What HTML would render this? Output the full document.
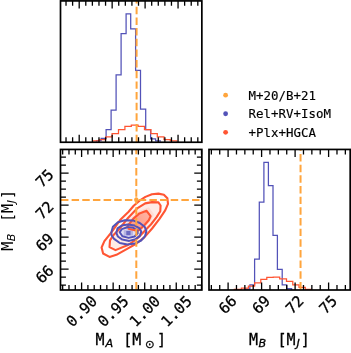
<!DOCTYPE html>
<html><head><meta charset="utf-8"><title>corner</title>
<style>html,body{margin:0;padding:0;background:#fff}svg{display:block}</style></head>
<body>
<svg width="351" height="353" viewBox="0 0 351 353">
<rect width="351" height="353" fill="#fff"/>
<g>
<path d="M96.40,141.80 L96.40,140.60 L101.10,140.60 L101.10,138.40 L106.10,138.40 L106.10,129.60 L111.10,129.60 L111.10,110.00 L116.10,110.00 L116.10,74.90 L121.10,74.90 L121.10,33.50 L126.10,33.50 L126.10,13.80 L130.70,13.80 L130.70,28.90 L135.60,28.90 L135.60,70.40 L140.50,70.40 L140.50,109.00 L145.70,109.00 L145.70,129.60 L150.60,129.60 L150.60,138.90 L155.60,138.90 L155.60,140.90 L160.30,140.90 L160.30,141.80" fill="none" stroke="#5252b8" stroke-width="1.25" stroke-linejoin="miter"/>
<path d="M92.80,141.80 L92.80,140.90 L99.30,140.90 L99.30,139.50 L105.70,139.50 L105.70,136.90 L112.10,136.90 L112.10,133.50 L118.50,133.50 L118.50,129.50 L124.90,129.50 L124.90,126.40 L131.30,126.40 L131.30,125.20 L138.10,125.20 L138.10,126.40 L144.50,126.40 L144.50,129.50 L150.90,129.50 L150.90,133.50 L157.30,133.50 L157.30,136.90 L164.00,136.90 L164.00,139.50 L170.30,139.50 L170.30,140.90 L176.70,140.90 L176.70,141.80" fill="none" stroke="#ff5533" stroke-width="1.25" stroke-linejoin="miter"/>
<line x1="136.6" y1="142.15" x2="136.6" y2="0.9" stroke="#ffa53d" stroke-width="2" stroke-dasharray="7.46 3.2"/>
<path d="M66.02,142.25 v-4.95 M66.02,0.9 v4.95 M72.61,142.25 v-4.95 M72.61,0.9 v4.95 M79.20,142.25 v-7.6 M79.20,0.9 v7.6 M85.79,142.25 v-4.95 M85.79,0.9 v4.95 M92.38,142.25 v-4.95 M92.38,0.9 v4.95 M98.97,142.25 v-4.95 M98.97,0.9 v4.95 M105.56,142.25 v-4.95 M105.56,0.9 v4.95 M112.15,142.25 v-7.6 M112.15,0.9 v7.6 M118.74,142.25 v-4.95 M118.74,0.9 v4.95 M125.33,142.25 v-4.95 M125.33,0.9 v4.95 M131.92,142.25 v-4.95 M131.92,0.9 v4.95 M138.51,142.25 v-4.95 M138.51,0.9 v4.95 M145.10,142.25 v-7.6 M145.10,0.9 v7.6 M151.69,142.25 v-4.95 M151.69,0.9 v4.95 M158.28,142.25 v-4.95 M158.28,0.9 v4.95 M164.87,142.25 v-4.95 M164.87,0.9 v4.95 M171.46,142.25 v-4.95 M171.46,0.9 v4.95 M178.05,142.25 v-7.6 M178.05,0.9 v7.6 M184.64,142.25 v-4.95 M184.64,0.9 v4.95 M191.23,142.25 v-4.95 M191.23,0.9 v4.95 M197.82,142.25 v-4.95 M197.82,0.9 v4.95" stroke="#000" stroke-width="1.3" fill="none"/>
<rect x="60.5" y="0.9" width="141.35" height="141.35" fill="none" stroke="#000" stroke-width="1.7"/>
</g>
<g>
<path d="M245.30,290.00 L245.30,289.00 L249.90,289.00 L249.90,284.90 L254.60,284.90 L254.60,259.00 L259.30,259.00 L259.30,202.10 L263.90,202.10 L263.90,162.35 L268.40,162.35 L268.40,185.70 L273.00,185.70 L273.00,235.30 L277.40,235.30 L277.40,269.40 L282.20,269.40 L282.20,284.80 L286.70,284.80 L286.70,288.70 L291.60,288.70 L291.60,290.00" fill="none" stroke="#5252b8" stroke-width="1.25" stroke-linejoin="miter"/>
<path d="M234.30,290.00 L234.30,289.40 L241.40,289.40 L241.40,288.20 L248.40,288.20 L248.40,286.00 L254.60,286.00 L254.60,282.80 L260.80,282.80 L260.80,279.30 L266.80,279.30 L266.80,277.40 L273.20,277.40 L273.20,277.20 L279.70,277.20 L279.70,278.90 L286.50,278.90 L286.50,281.40 L292.80,281.40 L292.80,284.80 L299.00,284.80 L299.00,287.40 L305.30,287.40 L305.30,289.40 L311.30,289.40 L311.30,290.00" fill="none" stroke="#ff5533" stroke-width="1.25" stroke-linejoin="miter"/>
<line x1="300.55" y1="289.40" x2="300.55" y2="149.45" stroke="#ffa53d" stroke-width="2" stroke-dasharray="7.46 3.2"/>
<path d="M211.35,290.0 v-4.95 M211.35,149.45 v4.95 M219.72,290.0 v-4.95 M219.72,149.45 v4.95 M228.10,290.0 v-7.6 M228.10,149.45 v7.6 M236.47,290.0 v-4.95 M236.47,149.45 v4.95 M244.85,290.0 v-4.95 M244.85,149.45 v4.95 M253.22,290.0 v-4.95 M253.22,149.45 v4.95 M261.60,290.0 v-7.6 M261.60,149.45 v7.6 M269.98,290.0 v-4.95 M269.98,149.45 v4.95 M278.35,290.0 v-4.95 M278.35,149.45 v4.95 M286.73,290.0 v-4.95 M286.73,149.45 v4.95 M295.10,290.0 v-7.6 M295.10,149.45 v7.6 M303.48,290.0 v-4.95 M303.48,149.45 v4.95 M311.85,290.0 v-4.95 M311.85,149.45 v4.95 M320.23,290.0 v-4.95 M320.23,149.45 v4.95 M328.60,290.0 v-7.6 M328.60,149.45 v7.6 M336.98,290.0 v-4.95 M336.98,149.45 v4.95 M345.35,290.0 v-4.95 M345.35,149.45 v4.95" stroke="#000" stroke-width="1.3" fill="none"/>
<rect x="209.0" y="149.45" width="141.20" height="140.55" fill="none" stroke="#000" stroke-width="1.7"/>
</g>
<g>
<defs><linearGradient id="gin" gradientUnits="userSpaceOnUse" x1="128" y1="230" x2="150" y2="210"><stop offset="0" stop-color="#ff5533" stop-opacity="0.55"/><stop offset="1" stop-color="#ff5533" stop-opacity="0.28"/></linearGradient></defs>
<path d="M101.6,247.5 L104.4,241.1 L111.4,232.3 L120.1,220.1 L128.6,211.7 L133.7,205.7 L139.6,200.6 L145.4,196.9 L151.9,194.2 L158.4,193.6 L163.9,194.8 L167.4,198.3 L168.0,203.8 L165.2,210.3 L159.5,218.8 L152.1,228.5 L144.1,237.6 L136.5,243.5 L128.0,248.4 L116.4,254.8 L109.5,256.9 L103.1,253.5Z" fill="#ff5533" fill-opacity="0.02" stroke="none" stroke-width="2.1" stroke-linejoin="round"/>
<path d="M109.5,247.1 L110.0,240.3 L113.5,235.0 L119.4,229.0 L124.7,222.1 L128.0,218.0 L137.5,208.1 L145.2,203.4 L151.9,202.1 L158.4,202.4 L160.6,205.5 L160.3,211.3 L156.6,217.1 L150.9,224.5 L145.3,230.2 L139.6,236.4 L134.0,241.0 L128.0,245.0 L115.5,250.1Z" fill="#ff5533" fill-opacity="0.1" stroke="none" stroke-width="2.1" stroke-linejoin="round"/>
<path d="M122.8,230.7 L125.0,226.0 L131.6,217.4 L139.4,210.7 L148.8,207.3 L154.0,214.3 L151.6,219.5 L146.4,225.5 L142.7,229.1 L137.1,233.6 L133.2,232.9Z" fill="#ff5533" fill-opacity="0.1" stroke="none" stroke-width="2.1" stroke-linejoin="round"/>
<path d="M126.6,228.8 L128.3,225.2 L133.4,218.6 L139.4,213.4 L146.6,210.8 L150.6,216.2 L148.8,220.2 L144.8,224.8 L141.9,227.6 L137.6,231.0 L134.6,230.5Z" fill="url(#gin)" fill-opacity="1" stroke="none" stroke-width="2.1" stroke-linejoin="round"/>
<path d="M101.6,247.5 L104.4,241.1 L111.4,232.3 L120.1,220.1 L128.6,211.7 L133.7,205.7 L139.6,200.6 L145.4,196.9 L151.9,194.2 L158.4,193.6 L163.9,194.8 L167.4,198.3 L168.0,203.8 L165.2,210.3 L159.5,218.8 L152.1,228.5 L144.1,237.6 L136.5,243.5 L128.0,248.4 L116.4,254.8 L109.5,256.9 L103.1,253.5Z" fill="none" fill-opacity="1" stroke="#ff5533" stroke-width="2.1" stroke-linejoin="round"/>
<path d="M109.5,247.1 L110.0,240.3 L113.5,235.0 L119.4,229.0 L124.7,222.1 L128.0,218.0 L137.5,208.1 L145.2,203.4 L151.9,202.1 L158.4,202.4 L160.6,205.5 L160.3,211.3 L156.6,217.1 L150.9,224.5 L145.3,230.2 L139.6,236.4 L134.0,241.0 L128.0,245.0 L115.5,250.1Z" fill="none" fill-opacity="1" stroke="#ff5533" stroke-width="2.1" stroke-linejoin="round"/>
<path d="M126.6,228.8 L128.3,225.2 L133.4,218.6 L139.4,213.4 L146.6,210.8 L150.6,216.2 L148.8,220.2 L144.8,224.8 L141.9,227.6 L137.6,231.0 L134.6,230.5Z" fill="none" fill-opacity="1" stroke="#ff5533" stroke-width="2.1" stroke-linejoin="round"/>
<path d="M119.7,232.2 L121.8,229.1 L127.2,227.3 L133.2,227.8 L137.3,230.5 L137.7,233.2 L134.6,236.5 L128.6,237.9 L122.4,236.3Z" fill="#dcdcf4" fill-opacity="0.85" stroke="none" stroke-width="2.1" stroke-linejoin="round"/>
<rect x="123.7" y="230.2" width="9.2" height="5.4" fill="#5252b8" fill-opacity="0.30"/>
<rect x="126.3" y="231.0" width="4.2" height="4.2" fill="#5252b8" fill-opacity="0.75"/>
<path d="M111.3,232.4 L112.9,226.7 L117.9,222.3 L124.8,220.2 L132.9,220.4 L139.8,223.0 L144.6,226.7 L146.4,231.1 L145.1,236.1 L141.1,240.5 L134.8,243.6 L127.3,244.6 L119.8,243.0 L114.1,238.9 L111.6,235.5Z" fill="none" fill-opacity="1" stroke="#5252b8" stroke-width="2.0" stroke-linejoin="round"/>
<path d="M116.3,232.8 L117.5,228.4 L121.7,225.6 L127.9,224.6 L134.8,225.6 L139.6,228.4 L141.3,231.7 L139.8,235.9 L135.4,239.3 L129.2,240.9 L122.3,239.6 L117.9,236.5Z" fill="none" fill-opacity="1" stroke="#5252b8" stroke-width="2.0" stroke-linejoin="round"/>
<path d="M119.7,232.2 L121.8,229.1 L127.2,227.3 L133.2,227.8 L137.3,230.5 L137.7,233.2 L134.6,236.5 L128.6,237.9 L122.4,236.3Z" fill="none" fill-opacity="1" stroke="#5252b8" stroke-width="2.0" stroke-linejoin="round"/>
<path d="M128.6,228.9 L135.0,230.3" fill="none" stroke="#ff5533" stroke-width="1.9" stroke-linecap="round"/>
<line x1="136.3" y1="289.40" x2="136.3" y2="199.95" stroke="#ffa53d" stroke-width="2" stroke-dasharray="7.46 3.2"/>
<path d="M136.3,149.45 V154.15 M136.3,157.35 V164.8 M136.3,168.0 V175.45 M136.3,178.65 V186.1 M136.3,189.3 V196.8 M136.3,197.5 V199.95" stroke="#ffa53d" stroke-width="2" fill="none"/>
<line x1="60.95" y1="199.95" x2="136.3" y2="199.95" stroke="#ffa53d" stroke-width="2" stroke-dasharray="7.46 3.2"/>
<line x1="138.74" y1="199.95" x2="201.85" y2="199.95" stroke="#ffa53d" stroke-width="2" stroke-dasharray="7.46 3.2"/>
<circle cx="136.3" cy="199.8" r="2.25" fill="#ffa53d"/>
<path d="M62.67,290.0 v-4.95 M62.67,149.45 v4.95 M68.98,290.0 v-4.95 M68.98,149.45 v4.95 M75.29,290.0 v-4.95 M75.29,149.45 v4.95 M81.60,290.0 v-7.6 M81.60,149.45 v7.6 M87.91,290.0 v-4.95 M87.91,149.45 v4.95 M94.22,290.0 v-4.95 M94.22,149.45 v4.95 M100.53,290.0 v-4.95 M100.53,149.45 v4.95 M106.84,290.0 v-4.95 M106.84,149.45 v4.95 M113.15,290.0 v-7.6 M113.15,149.45 v7.6 M119.46,290.0 v-4.95 M119.46,149.45 v4.95 M125.77,290.0 v-4.95 M125.77,149.45 v4.95 M132.08,290.0 v-4.95 M132.08,149.45 v4.95 M138.39,290.0 v-4.95 M138.39,149.45 v4.95 M144.70,290.0 v-7.6 M144.70,149.45 v7.6 M151.01,290.0 v-4.95 M151.01,149.45 v4.95 M157.32,290.0 v-4.95 M157.32,149.45 v4.95 M163.63,290.0 v-4.95 M163.63,149.45 v4.95 M169.94,290.0 v-4.95 M169.94,149.45 v4.95 M176.25,290.0 v-7.6 M176.25,149.45 v7.6 M182.56,290.0 v-4.95 M182.56,149.45 v4.95 M188.87,290.0 v-4.95 M188.87,149.45 v4.95 M195.18,290.0 v-4.95 M195.18,149.45 v4.95 M201.49,290.0 v-4.95 M201.49,149.45 v4.95" stroke="#000" stroke-width="1.3" fill="none"/>
<path d="M60.5,157.08 h5.45 M201.85,157.08 h-4.95 M60.5,165.09 h5.45 M201.85,165.09 h-4.95 M60.5,173.10 h8.1 M201.85,173.10 h-7.6 M60.5,181.11 h5.45 M201.85,181.11 h-4.95 M60.5,189.12 h5.45 M201.85,189.12 h-4.95 M60.5,197.12 h5.45 M201.85,197.12 h-4.95 M60.5,205.13 h8.1 M201.85,205.13 h-7.6 M60.5,213.14 h5.45 M201.85,213.14 h-4.95 M60.5,221.14 h5.45 M201.85,221.14 h-4.95 M60.5,229.15 h5.45 M201.85,229.15 h-4.95 M60.5,237.16 h8.1 M201.85,237.16 h-7.6 M60.5,245.17 h5.45 M201.85,245.17 h-4.95 M60.5,253.18 h5.45 M201.85,253.18 h-4.95 M60.5,261.18 h5.45 M201.85,261.18 h-4.95 M60.5,269.19 h8.1 M201.85,269.19 h-7.6 M60.5,277.20 h5.45 M201.85,277.20 h-4.95 M60.5,285.20 h5.45 M201.85,285.20 h-4.95" stroke="#000" stroke-width="1.3" fill="none"/>
<rect x="60.5" y="149.45" width="141.35" height="140.55" fill="none" stroke="#000" stroke-width="1.7"/>
</g>
<circle cx="225.6" cy="95.20" r="2.4" fill="#ffa53d"/>
<text x="248.6" y="99.60" font-family="'DejaVu Sans Mono','Liberation Mono',monospace" font-size="12.45" fill="#000" stroke="#000" stroke-width="0.15">M+20/B+21</text>
<circle cx="225.6" cy="113.75" r="2.4" fill="#5252b8"/>
<text x="248.6" y="118.15" font-family="'DejaVu Sans Mono','Liberation Mono',monospace" font-size="12.45" fill="#000" stroke="#000" stroke-width="0.15">Rel+RV+IsoM</text>
<circle cx="225.6" cy="132.30" r="2.4" fill="#ff5533"/>
<text x="248.6" y="136.70" font-family="'DejaVu Sans Mono','Liberation Mono',monospace" font-size="12.45" fill="#000" stroke="#000" stroke-width="0.15">+Plx+HGCA</text>
<text transform="translate(81.5,311.0) rotate(-45)" text-anchor="middle" y="5.47" font-family="'DejaVu Sans Mono','Liberation Mono',monospace" font-size="15" fill="#000" stroke="#000" stroke-width="0.3">0.90</text>
<text transform="translate(113.0,311.0) rotate(-45)" text-anchor="middle" y="5.47" font-family="'DejaVu Sans Mono','Liberation Mono',monospace" font-size="15" fill="#000" stroke="#000" stroke-width="0.3">0.95</text>
<text transform="translate(144.6,311.0) rotate(-45)" text-anchor="middle" y="5.47" font-family="'DejaVu Sans Mono','Liberation Mono',monospace" font-size="15" fill="#000" stroke="#000" stroke-width="0.3">1.00</text>
<text transform="translate(176.2,311.0) rotate(-45)" text-anchor="middle" y="5.47" font-family="'DejaVu Sans Mono','Liberation Mono',monospace" font-size="15" fill="#000" stroke="#000" stroke-width="0.3">1.05</text>
<text transform="translate(227.4,304.4) rotate(-45)" text-anchor="middle" y="5.47" font-family="'DejaVu Sans Mono','Liberation Mono',monospace" font-size="15" fill="#000" stroke="#000" stroke-width="0.3">66</text>
<text transform="translate(260.9,304.4) rotate(-45)" text-anchor="middle" y="5.47" font-family="'DejaVu Sans Mono','Liberation Mono',monospace" font-size="15" fill="#000" stroke="#000" stroke-width="0.3">69</text>
<text transform="translate(294.4,304.4) rotate(-45)" text-anchor="middle" y="5.47" font-family="'DejaVu Sans Mono','Liberation Mono',monospace" font-size="15" fill="#000" stroke="#000" stroke-width="0.3">72</text>
<text transform="translate(327.9,304.4) rotate(-45)" text-anchor="middle" y="5.47" font-family="'DejaVu Sans Mono','Liberation Mono',monospace" font-size="15" fill="#000" stroke="#000" stroke-width="0.3">75</text>
<text transform="translate(44.4,178.0) rotate(-45)" text-anchor="middle" y="5.47" font-family="'DejaVu Sans Mono','Liberation Mono',monospace" font-size="15" fill="#000" stroke="#000" stroke-width="0.3">75</text>
<text transform="translate(44.4,210.0) rotate(-45)" text-anchor="middle" y="5.47" font-family="'DejaVu Sans Mono','Liberation Mono',monospace" font-size="15" fill="#000" stroke="#000" stroke-width="0.3">72</text>
<text transform="translate(44.4,242.1) rotate(-45)" text-anchor="middle" y="5.47" font-family="'DejaVu Sans Mono','Liberation Mono',monospace" font-size="15" fill="#000" stroke="#000" stroke-width="0.3">69</text>
<text transform="translate(44.4,274.1) rotate(-45)" text-anchor="middle" y="5.47" font-family="'DejaVu Sans Mono','Liberation Mono',monospace" font-size="15" fill="#000" stroke="#000" stroke-width="0.3">66</text>
<g transform="translate(95.45,344.9)" fill="#000" stroke="#000" stroke-width="0.3">
<text x="0.00" y="0.00" font-family="'DejaVu Sans Mono','Liberation Mono',monospace" font-size="15">M</text>
<text x="10.10" y="2.50" font-family="'DejaVu Sans','Liberation Sans',sans-serif" font-size="11.2" font-style="italic">A</text>
<text x="27.70" y="0.00" font-family="'DejaVu Sans Mono','Liberation Mono',monospace" font-size="15">[M</text>
<text x="49.50" y="2.80" font-family="'DejaVu Sans','Liberation Sans',sans-serif" font-size="11.3">⊙</text>
<text x="61.60" y="0.00" font-family="'DejaVu Sans Mono','Liberation Mono',monospace" font-size="15">]</text>
</g>
<g transform="translate(249.0,344.9)" fill="#000" stroke="#000" stroke-width="0.3">
<text x="0.00" y="0.00" font-family="'DejaVu Sans Mono','Liberation Mono',monospace" font-size="15">M</text>
<text x="9.50" y="2.50" font-family="'DejaVu Sans','Liberation Sans',sans-serif" font-size="11.2" font-style="italic">B</text>
<text x="28.60" y="0.00" font-family="'DejaVu Sans Mono','Liberation Mono',monospace" font-size="15">[M</text>
<text x="47.40" y="2.50" font-family="'DejaVu Sans','Liberation Sans',sans-serif" font-size="11.2" font-style="italic">J</text>
<text x="51.80" y="0.00" font-family="'DejaVu Sans Mono','Liberation Mono',monospace" font-size="15">]</text>
</g>
<g transform="translate(12.5,250.7) rotate(-90)" fill="#000" stroke="#000" stroke-width="0">
<text x="0.00" y="0.00" font-family="'DejaVu Sans Mono','Liberation Mono',monospace" font-size="15">M</text>
<text x="9.50" y="2.50" font-family="'DejaVu Sans','Liberation Sans',sans-serif" font-size="11.2" font-style="italic">B</text>
<text x="28.60" y="0.00" font-family="'DejaVu Sans Mono','Liberation Mono',monospace" font-size="15">[M</text>
<text x="47.40" y="2.50" font-family="'DejaVu Sans','Liberation Sans',sans-serif" font-size="11.2" font-style="italic">J</text>
<text x="51.80" y="0.00" font-family="'DejaVu Sans Mono','Liberation Mono',monospace" font-size="15">]</text>
</g>
</svg>
</body></html>
